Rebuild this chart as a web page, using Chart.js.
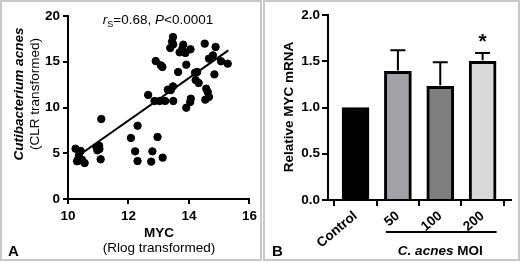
<!DOCTYPE html>
<html>
<head>
<meta charset="utf-8">
<script src="https://cdn.jsdelivr.net/npm/chart.js@4.4.1/dist/chart.umd.min.js"></script>
<style>
  body { margin: 0; background: #fff; }
  #wrap { position: relative; width: 520px; height: 263px; overflow: hidden; }
  .panel { position: absolute; top: 0; box-sizing: border-box; border: 2px solid #c8c8c8; height: 261px; }
  canvas { position: absolute; top: 0; }
</style>
</head>
<body>
<div id="wrap">
  <div class="panel" style="left:0;width:262px;"></div>
  <div class="panel" style="left:263px;width:257px;"></div>
  <canvas id="chartA" width="261" height="263" style="left:0"></canvas>
  <canvas id="chartB" width="257" height="263" style="left:263px"></canvas>
</div>
<script>
// panel A: MYC vs C. acnes
const myc = [10.25, 10.42, 10.36, 10.30, 10.46, 10.55, 10.39, 10.94, 11.03, 10.97, 11.04, 11.08, 11.10,
  12.08, 12.30, 12.22, 12.30, 12.96, 12.79, 12.75, 13.13, 12.65,
  12.90, 13.07, 13.12, 12.86, 13.03, 13.21, 13.48, 13.30, 13.47, 13.40,
  13.47, 13.44, 13.48, 13.38, 13.64, 13.81, 13.78, 13.69, 13.88, 14.05, 13.91,
  13.91, 14.04, 14.06, 14.27, 14.22, 14.32, 14.20,
  14.52, 14.88, 14.66, 14.79, 14.84, 14.57, 14.62, 14.54, 14.66, 15.06, 15.28];
const cacnes = [5.50, 5.25, 4.74, 4.12, 4.30, 3.93, 4.22, 5.68, 5.83, 5.32, 5.46, 4.34, 8.74,
  6.67, 8.01, 5.21, 4.15, 6.78, 5.21, 4.08, 4.52, 11.37,
  15.08, 14.61, 14.43, 10.71, 10.71, 10.71, 10.71, 11.95, 12.31, 11.90,
  17.70, 17.20, 16.90, 16.50, 13.88, 16.87, 16.43, 16.03, 15.96, 16.36, 14.68,
  9.98, 10.60, 10.97, 13.88, 13.00, 12.68, 13.80,
  16.98, 16.61, 15.34, 15.70, 13.62, 12.06, 11.69, 10.86, 11.15, 15.05, 14.79];
const fitX = [10.2, 15.3];
const fitY = [4.4, 16.25];
const xTicksA = [10, 12, 14, 16];
const yTicksA = [0, 5, 10, 15, 20];

// panel B: relative MYC mRNA
const groups = ["Control", "50", "100", "200"];
const mrnaMean = [1.0, 1.39, 1.23, 1.50];
const mrnaSd = [0, 0.23, 0.26, 0.09];
const yTicksB = [0, 0.5, 1.0, 1.5, 2.0];
const barColors = ["#000000", "#a2a2a6", "#7e7e7e", "#d9d9d9"];

const FONT = "'Liberation Sans', Arial, sans-serif";
const tickFont = { family: FONT, size: 13.5, weight: "bold" };

const axisLook = (tickLen) => ({
    grid: { display: true, drawOnChartArea: false, drawTicks: true, tickLength: tickLen, color: "#000", lineWidth: 2 },
    border: { display: true, color: "#000", width: 2 }
});

const textA = {
    id: "textA",
    afterDraw(chart) {
        const ctx = chart.ctx;
        ctx.save();
        ctx.fillStyle = "#000";
        ctx.textBaseline = "alphabetic";
        // y title
        ctx.save();
        ctx.translate(23, 94);
        ctx.rotate(-Math.PI / 2);
        ctx.textAlign = "center";
        ctx.font = "italic bold 13.5px " + FONT;
        ctx.fillText("Cutibacterium acnes", 0, 0);
        ctx.font = "13.5px " + FONT;
        ctx.fillText("(CLR transformed)", 0, 16);
        ctx.restore();
        // x title
        ctx.textAlign = "center";
        ctx.font = "bold 13.5px " + FONT;
        ctx.fillText("MYC", 159, 237);
        ctx.font = "13.5px " + FONT;
        ctx.fillText("(Rlog transformed)", 159, 252);
        // panel letter
        ctx.textAlign = "left";
        ctx.font = "bold 15px " + FONT;
        ctx.fillText("A", 8, 256);
        // stats annotation
        const parts = [
            ["italic 13.5px " + FONT, "r", 0],
            ["9px " + FONT, "S", 3],
            ["13.5px " + FONT, "=0.68, ", 0],
            ["italic 13.5px " + FONT, "P", 0],
            ["13.5px " + FONT, "<0.0001", 0]
        ];
        let total = 0;
        parts.forEach(p => { ctx.font = p[0]; total += ctx.measureText(p[1]).width; });
        let x = 158 - total / 2;
        parts.forEach(p => {
            ctx.font = p[0];
            ctx.fillText(p[1], x, 24 + p[2]);
            x += ctx.measureText(p[1]).width;
        });
        ctx.restore();
    }
};

new Chart(document.getElementById("chartA"), {
    type: "scatter",
    data: {
        datasets: [{
            data: myc.map((v, i) => ({ x: v, y: cacnes[i] })),
            backgroundColor: "#000",
            borderColor: "#000",
            pointRadius: 3.7,
            pointHoverRadius: 3.7
        }, {
            type: "line",
            data: fitX.map((v, i) => ({ x: v, y: fitY[i] })),
            borderColor: "#000",
            borderWidth: 2,
            pointRadius: 0,
            fill: false
        }]
    },
    options: {
        responsive: false,
        animation: false,
        events: [],
        layout: { padding: { left: 0, top: 16, right: 11, bottom: 0 } },
        plugins: { legend: { display: false }, tooltip: { enabled: false } },
        scales: {
            x: {
                type: "linear", min: 10, max: 16,
                afterBuildTicks: s => { s.ticks = xTicksA.map(v => ({ value: v })); },
                afterFit: s => { s.height = 64; },
                ticks: { font: tickFont, color: "#000", padding: 4, maxRotation: 0 },
                ...axisLook(5)
            },
            y: {
                type: "linear", min: 0, max: 20,
                afterBuildTicks: s => { s.ticks = yTicksA.map(v => ({ value: v })); },
                afterFit: s => { s.width = 68; },
                ticks: { font: tickFont, color: "#000", padding: 3 },
                ...axisLook(5)
            }
        }
    },
    plugins: [textA]
});

const extrasB = {
    id: "extrasB",
    afterDatasetsDraw(chart) {
        const ctx = chart.ctx;
        const xs = chart.scales.x, ys = chart.scales.y;
        ctx.save();
        ctx.strokeStyle = "#000";
        ctx.lineWidth = 2;
        mrnaMean.forEach((m, i) => {
            if (!mrnaSd[i]) return;
            const x = xs.getPixelForValue(i);
            const y0 = ys.getPixelForValue(m);
            const y1 = ys.getPixelForValue(m + mrnaSd[i]);
            ctx.beginPath();
            ctx.moveTo(x, y0 - 1);
            ctx.lineTo(x, y1);
            ctx.moveTo(x - 7.5, y1);
            ctx.lineTo(x + 7.5, y1);
            ctx.stroke();
        });
        ctx.fillStyle = "#000";
        // significance star
        ctx.textAlign = "center";
        ctx.font = "bold 21px " + FONT;
        ctx.fillText("*", xs.getPixelForValue(3), 48);
        // y title
        ctx.save();
        ctx.translate(30, 107);
        ctx.rotate(-Math.PI / 2);
        ctx.font = "bold 13.5px " + FONT;
        ctx.fillText("Relative MYC mRNA", 0, 0);
        ctx.restore();
        // group bracket
        ctx.beginPath();
        ctx.moveTo(xs.getPixelForValue(1) - 12, 232);
        ctx.lineTo(xs.getPixelForValue(3) + 14, 232);
        ctx.stroke();
        const parts = [["italic bold 13.5px " + FONT, "C. acnes "], ["bold 13.5px " + FONT, "MOI"]];
        let total = 0;
        parts.forEach(p => { ctx.font = p[0]; total += ctx.measureText(p[1]).width; });
        let x = xs.getPixelForValue(2) - total / 2;
        ctx.textAlign = "left";
        parts.forEach(p => {
            ctx.font = p[0];
            ctx.fillText(p[1], x, 255);
            x += ctx.measureText(p[1]).width;
        });
        ctx.font = "bold 15px " + FONT;
        ctx.fillText("B", 9, 256);
        ctx.restore();
    }
};

new Chart(document.getElementById("chartB"), {
    type: "bar",
    data: {
        datasets: [{
            data: mrnaMean.map((v, i) => ({ x: i, y: v })),
            backgroundColor: barColors,
            borderColor: "#000",
            borderWidth: 3,
            barThickness: 27
        }]
    },
    options: {
        responsive: false,
        animation: false,
        events: [],
        layout: { padding: { left: 0, top: 15, right: 9, bottom: 0 } },
        plugins: { legend: { display: false }, tooltip: { enabled: false } },
        scales: {
            x: {
                type: "linear", min: -0.65, max: 3.67, offset: false,
                afterBuildTicks: s => { s.ticks = groups.map((g, i) => ({ value: i })); },
                afterFit: s => { s.height = 63; },
                ticks: {
                    font: tickFont, color: "#000", padding: 2,
                    minRotation: 40, maxRotation: 40,
                    callback: v => groups[v]
                },
                ...axisLook(6)
            },
            y: {
                type: "linear", min: 0, max: 2,
                afterBuildTicks: s => { s.ticks = yTicksB.map(v => ({ value: v })); },
                afterFit: s => { s.width = 65; },
                ticks: { font: tickFont, color: "#000", padding: 2, callback: v => v.toFixed(1) },
                ...axisLook(6)
            }
        }
    },
    plugins: [extrasB]
});
</script>
</body>
</html>
